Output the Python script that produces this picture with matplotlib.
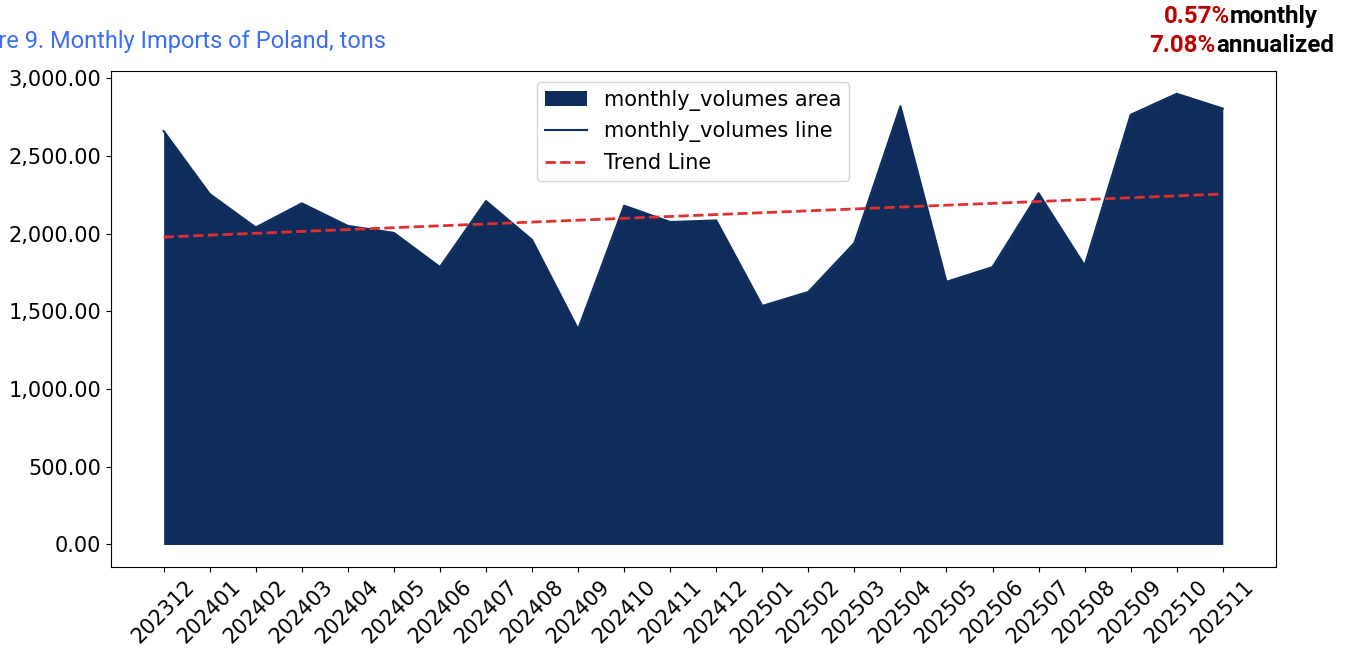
import matplotlib
matplotlib.use("Agg")
import matplotlib.pyplot as plt
import matplotlib.ticker as mticker
import numpy as np

months = ["202312", "202401", "202402", "202403", "202404", "202405", "202406",
          "202407", "202408", "202409", "202410", "202411", "202412", "202501",
          "202502", "202503", "202504", "202505", "202506", "202507", "202508",
          "202509", "202510", "202511"]
monthly_volumes = [2660, 2255, 2040, 2195, 2050, 2005, 1785, 2210, 1960, 1385,
                   2180, 2075, 2085, 1535, 1625, 1940, 2820, 1690, 1785, 2260,
                   1795, 2765, 2900, 2805]
title_text = "Figure 9. Monthly Imports of Poland, tons"
monthly_rate = "0.57%"
annual_rate = "7.08%"

navy = "#0e2d5c"
x = np.arange(len(months))
y = np.array(monthly_volumes, dtype=float)
coef = np.polyfit(x, y, 1)
trend = np.polyval(coef, x)

fig = plt.figure(figsize=(13.5, 6.48), dpi=100)
ax = fig.add_axes([0.082, 0.125, 0.863, 0.765])

ax.fill_between(x, y, 0, color=navy, label="monthly_volumes area", linewidth=0)
ax.plot(x, y, color=navy, linewidth=1.5, label="monthly_volumes line")
ax.plot(x, trend, color="#e03030", linestyle="--", linewidth=2, label="Trend Line")

ax.set_xticks(x)
ax.set_xticklabels(months, rotation=45, fontsize=15)
ax.tick_params(axis="y", labelsize=15)
ax.yaxis.set_major_formatter(mticker.FuncFormatter(lambda v, p: f"{v:,.2f}"))

ax.legend(loc="upper center", fontsize=15, framealpha=0.8)

# size the title so that "Monthly Imports of Poland, tons" spans ~336 px
renderer = fig.canvas.get_renderer()
probe = fig.text(0, 0, "Monthly Imports of Poland, tons", fontsize=10, family="Roboto")
w10 = probe.get_window_extent(renderer).width
probe.remove()
title_fs = 10 * 336 / w10

fig.text(386 / 1350, 1 - 48 / 648, title_text, ha="right", va="baseline",
         fontsize=title_fs, color="#3b6ff5", family="Roboto")

fs = 17.4
fig.text(1230 / 1350, 1 - 23 / 648, monthly_rate, ha="right", va="baseline",
         fontsize=fs, color="#c00000", family="Roboto", fontweight="bold")
fig.text(1230 / 1350, 1 - 23 / 648, "monthly", ha="left", va="baseline",
         fontsize=fs, color="black", family="Roboto", fontweight="bold")
fig.text(1216 / 1350, 1 - 52 / 648, annual_rate, ha="right", va="baseline",
         fontsize=fs, color="#c00000", family="Roboto", fontweight="bold")
fig.text(1216 / 1350, 1 - 52 / 648, "annualized", ha="left", va="baseline",
         fontsize=fs, color="black", family="Roboto", fontweight="bold")

fig.savefig("out.png", dpi=100)
